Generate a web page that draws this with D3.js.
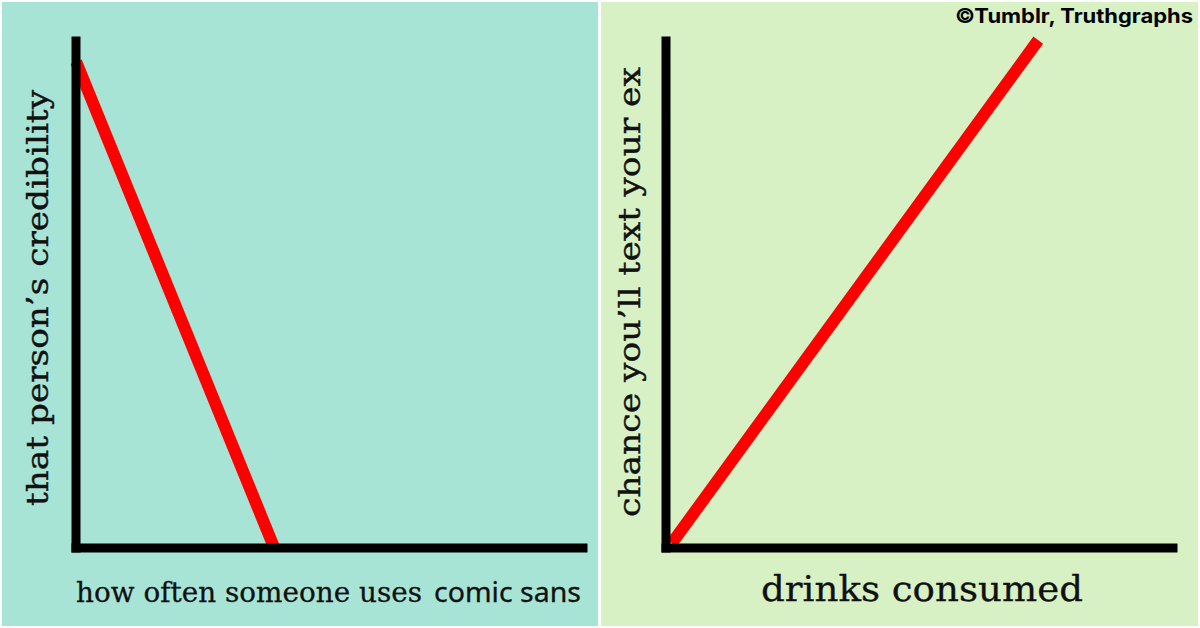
<!DOCTYPE html>
<html>
<head>
<meta charset="utf-8">
<script src="https://cdn.jsdelivr.net/npm/d3@7"></script>
<style>
  html, body { margin: 0; padding: 0; background: #fff; }
  svg { display: block; }
</style>
</head>
<body>
<svg id="chart" width="1200" height="628"></svg>
<script>
// two "truthgraphs": each is one straight red line on an unlabelled 0..10 grid
const panelNames = ["comicSans", "drinks"];
const leftLine = [[0.1, 9.5], [3.93, 0.1]];
const rightLine = [[0.21, 0.17], [7.31, 9.92]];
const leftXLabel = "how often someone uses";
const leftXLabelTail = "comic sans";
const leftYLabel = "that person\u2019s credibility";
const rightXLabel = "drinks consumed";
const rightYLabel = "chance you\u2019ll text your ex";
const credit = "\u00a9Tumblr, Truthgraphs";

const svg = d3.select("#chart");

const panels = [
  { name: panelNames[0], x0: 2, x1: 598, bg: "#a8e4d6",
    xr: [71, 587], yr: [552, 36], line: leftLine },
  { name: panelNames[1], x0: 601, x1: 1198, bg: "#d7f1c5",
    xr: [661, 1177], yr: [552, 36], line: rightLine }
];

panels.forEach(p => {
  svg.append("rect")
    .attr("x", p.x0).attr("y", 2)
    .attr("width", p.x1 - p.x0).attr("height", 624)
    .attr("fill", p.bg);

  const x = d3.scaleLinear().domain([0, 10]).range(p.xr);
  const y = d3.scaleLinear().domain([0, 10]).range(p.yr);

  const g = svg.append("g");

  g.append("path")
    .datum(p.line)
    .attr("d", d3.line().x(d => x(d[0])).y(d => y(d[1])))
    .attr("fill", "none")
    .attr("stroke", "#ff0000")
    .attr("stroke-width", 12);

  // axes: no ticks, only a fat domain line
  const xAxis = d3.axisBottom(x).tickValues([]).tickSizeOuter(0);
  const yAxis = d3.axisLeft(y).tickValues([]).tickSizeOuter(0);

  g.append("g")
    .attr("transform", "translate(0,547.5)")
    .call(xAxis)
    .call(a => a.select(".domain").attr("stroke", "#000").attr("stroke-width", 9));
  g.append("g")
    .attr("transform", `translate(${p.xr[0] + 4.5},0)`)
    .call(yAxis)
    .call(a => a.select(".domain").attr("stroke", "#000").attr("stroke-width", 9));
});

const serif = "DejaVu Serif, serif";

// left panel labels
const lx = svg.append("text")
  .attr("y", 602)
  .attr("fill", "#111")
  .attr("stroke", "#111")
  .attr("stroke-width", 0.3)
  .attr("font-size", 27);
lx.append("tspan")
  .attr("x", 76)
  .attr("font-family", serif)
  .attr("textLength", 346)
  .attr("lengthAdjust", "spacingAndGlyphs")
  .text(leftXLabel);
lx.append("tspan")
  .attr("x", 434)
  .attr("font-family", "Noto Sans, DejaVu Sans, sans-serif")
  .attr("textLength", 147)
  .attr("lengthAdjust", "spacingAndGlyphs")
  .text(leftXLabelTail);

svg.append("text")
  .attr("transform", "translate(48,506) rotate(-90)")
  .attr("font-family", serif)
  .attr("font-size", 29)
  .attr("fill", "#111")
  .attr("stroke", "#111")
  .attr("stroke-width", 0.4)
  .attr("textLength", 416)
  .attr("lengthAdjust", "spacingAndGlyphs")
  .text(leftYLabel);

// right panel labels
svg.append("text")
  .attr("x", 761)
  .attr("y", 601)
  .attr("font-family", serif)
  .attr("font-size", 36)
  .attr("fill", "#111")
  .attr("stroke", "#111")
  .attr("stroke-width", 0.3)
  .attr("textLength", 322)
  .attr("lengthAdjust", "spacingAndGlyphs")
  .text(rightXLabel);

svg.append("text")
  .attr("transform", "translate(640,517) rotate(-90)")
  .attr("font-family", serif)
  .attr("font-size", 30)
  .attr("fill", "#111")
  .attr("stroke", "#111")
  .attr("stroke-width", 0.4)
  .attr("textLength", 450)
  .attr("lengthAdjust", "spacingAndGlyphs")
  .text(rightYLabel);

svg.append("text")
  .attr("x", 1193)
  .attr("y", 23)
  .attr("text-anchor", "end")
  .attr("font-family", "Inter, Noto Sans, sans-serif")
  .attr("font-weight", 700)
  .attr("font-size", 20)
  .attr("fill", "#000")
  .attr("textLength", 238)
  .attr("lengthAdjust", "spacingAndGlyphs")
  .text(credit);
</script>
</body>
</html>
